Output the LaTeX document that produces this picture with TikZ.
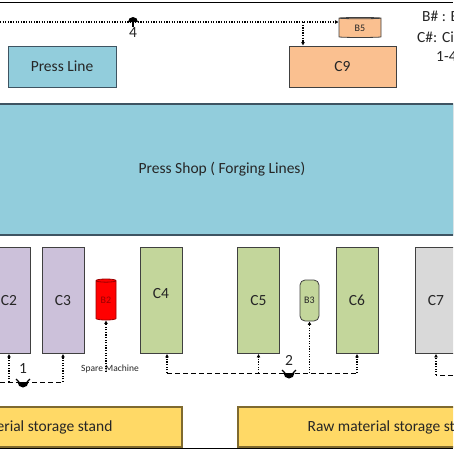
\documentclass[tikz,border=0pt]{standalone}
\usepackage{fontspec}
\setmainfont{Carlito}
\usetikzlibrary{arrows.meta,calc,shapes.geometric}

\definecolor{pressblue}{HTML}{92CDDC}
\definecolor{pressline}{HTML}{3E5462}
\definecolor{peach}{HTML}{FAC090}
\definecolor{lavender}{HTML}{CCC1DA}
\definecolor{leafgreen}{HTML}{C3D69B}
\definecolor{lightgrey}{HTML}{D9D9D9}
\definecolor{storeyellow}{HTML}{FFD966}
\definecolor{storeline}{HTML}{7F6A2F}
\definecolor{boxline}{HTML}{404040}
\definecolor{darktext}{HTML}{262626}

\tikzset{
	every node/.style={font=\fontsize{15.5}{18}\selectfont, text=darktext, inner sep=0pt},
	machine/.style={draw=boxline, line width=0.9pt, minimum width=42pt, minimum height=106pt},
	block/.style={draw=pressline, line width=1pt, fill=pressblue},
	store/.style={draw=storeline, line width=1.1pt, fill=storeyellow, minimum height=40pt},
	spare/.style={cylinder, shape border rotate=90, draw=boxline, line width=0.8pt, font=\fontsize{10}{12}\selectfont},
	feed/.style={line width=1.1pt, dash pattern=on 1.3pt off 1.3pt, -{Latex[length=3.5pt,width=4pt]}},
	route/.style={line width=0.8pt, dash pattern=on 5pt off 3pt},
	hop/.style={fill=black}
}

\begin{document}
\begin{tikzpicture}[x=1pt, y=-1pt]
			%%%%% START %%%%%
			\useasboundingbox (0, 0) rectangle (453, 453);
			\begin{scope}
			\clip (0, 0) rectangle (453, 453);
			
			\draw[line width=1.2pt] (0, 2.5) -- (453, 2.5);
			\draw[line width=1.2pt] (0, 448.5) -- (453, 448.5);
			
			% top row
			\node[block, minimum width=108pt, minimum height=41pt] (pressline) at (62, 66.5) {Press Line};
			\node[draw=boxline, line width=0.9pt, fill=peach, minimum width=107pt, minimum height=41pt] (c9) at (342.5, 66.5) {C9};
			\node[spare, fill=peach, aspect=0.12, minimum width=42pt, minimum height=20pt] (b5) at (360, 28) {B5};
			
			\node[anchor=west] (keyb) at (422, 16) {B\# : B};
			\node[anchor=west] (keyc) at (417, 37) {C\#: Ci};
			\node[anchor=west] (keyn) at (436, 57) {1-4};
			
			% press shop
			\node[block, line width=1.6pt, minimum width=464pt, minimum height=131pt] (pressshop) at (222, 169.5) {Press Shop ( Forging Lines)};
			
			% machines
			\node[machine, fill=lavender] (c2) at (9, 300.5) {C2};
			\node[machine, fill=lavender] (c3) at (63, 300.5) {C3};
			\node[spare, fill=red, draw=red!60!black, text=red!60!black, aspect=0.3, minimum width=20pt, minimum height=41pt] (b2) at (106, 300.5) {B2};
			\node[machine, fill=leafgreen, text depth=14pt] (c4) at (161, 300.5) {C4};
			\node[machine, fill=leafgreen] (c5) at (258.5, 300.5) {C5};
			\node[draw=boxline, line width=0.8pt, fill=leafgreen, rounded corners=5pt, minimum width=19pt, minimum height=41pt, font=\fontsize{10}{12}\selectfont] (b3) at (309.5, 300.5) {B3};
			\node[machine, fill=leafgreen] (c6) at (357, 300.5) {C6};
			\node[machine, fill=lightgrey] (c7) at (436, 300.5) {C7};
			
			\node[font=\fontsize{9.5}{11}\selectfont] (sparelabel) at (110, 369) {Spare Machine};
			
			% storage
			\node[store, minimum width=310pt] (storeleft) at (27, 427) {Raw material storage stand};
			\node[store, minimum width=310pt] (storeright) at (393, 427) {Raw material storage stand};
			
			% route 4
			\coordinate (r4) at (0, 22);
			\coordinate (j4) at (133, 22);
			\coordinate (t9) at (303, 22);
			\draw[feed] (r4) -- (b5.west |- r4);
			\draw[feed] (t9) -- (t9 |- c9.north);
			\fill[hop] ($(j4)+(-5, 0)$) arc[start angle=180, end angle=360, radius=5] -- cycle;
			\draw[line width=1.2pt] (j4) -- ++(0, 5);
			\node (n4) at (133, 33) {4};
			
			% route 1
			\coordinate (r1) at (0, 382);
			\coordinate (j1) at (23, 382);
			\draw[route] (r1) -- (c3.south |- r1);
			\draw[feed] (c2.south |- r1) -- (c2.south);
			\draw[feed] (c3.south |- r1) -- (c3.south);
			\fill[hop] ($(j1)+(-5.5, 0)$) arc[start angle=180, end angle=0, radius=5.5] -- cycle;
			\draw[line width=1.2pt] ($(j1)+(-7, -3)$) -- ($(j1)+(-4, 0)$) ($(j1)+(7, -3)$) -- ($(j1)+(4, 0)$);
			\node (n1) at (23, 369) {1};
			\coordinate (sp) at (106, 372);
			\draw[feed] (sp) -- (b2.south);
			
			% route 2
			\coordinate (r2) at (167, 373);
			\coordinate (j2) at (289, 373);
			\draw[route] (r2) -- (c6.south |- r2);
			\draw[feed] (r2) -- (r2 |- c4.south);
			\draw[feed] (c5.south |- r2) -- (c5.south);
			\draw[feed] (b3.south |- r2) -- (b3.south);
			\draw[feed] (c6.south |- r2) -- (c6.south);
			\fill[hop] ($(j2)+(-5.5, 0)$) arc[start angle=180, end angle=0, radius=5.5] -- cycle;
			\draw[line width=1.2pt] ($(j2)+(-7, -3)$) -- ($(j2)+(-4, 0)$) ($(j2)+(7, -3)$) -- ($(j2)+(4, 0)$);
			\node (n2) at (289, 360) {2};
			
			% route 3
			\coordinate (r3) at (453, 375);
			\draw[route] (r3) -- (c7.south |- r3);
			\draw[feed] (c7.south |- r3) -- (c7.south);
			
			\end{scope}
			%%%%% END %%%%%
\end{tikzpicture}
\end{document}
